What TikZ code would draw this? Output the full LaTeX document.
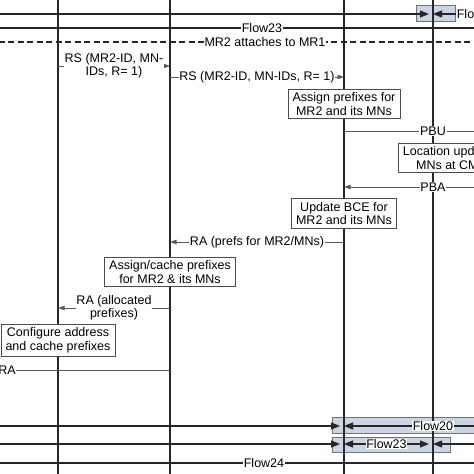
\documentclass[tikz,border=0pt]{standalone}
\usepackage{fontspec}
\setmainfont{Liberation Sans}
\usetikzlibrary{arrows.meta}
\definecolor{flowblue}{HTML}{CAD6E6}

\begin{document}
\begin{tikzpicture}[x=1pt,y=-1pt,
  lifeline/.style={line width=1.3pt,black!85},
  flowline/.style={line width=1.1pt,black!85},
  msgline/.style={line width=0.6pt,black!65},
  msgtip/.style={-{Triangle[length=6.5pt,width=4.5pt]}},
  flowtip/.style={-{Triangle[length=9pt,width=7pt]}},
  flowbox/.style={draw=black!55,fill=flowblue,line width=0.8pt},
  lbl/.style={fill=white,text=black,inner sep=0.8pt,font=\fontsize{12.5}{13.5}\selectfont,align=center},
  stepbox/.style={draw=black!70,fill=white,text=black,line width=0.8pt,inner xsep=4.5pt,inner ysep=3.4pt,
    font=\fontsize{12.5}{13.5}\selectfont,align=center}]
\useasboundingbox (0,0) rectangle (474,474);
\clip (0,0) rectangle (474,474);

\coordinate (west) at (-30,0);
\coordinate (east) at (520,0);
\coordinate (mrtwo) at (58,0);
\coordinate (mrone) at (170,0);
\coordinate (mag) at (344,0);
\coordinate (magin) at (340,0);
\coordinate (cmag) at (433,0);
\coordinate (cmagin) at (429,0);

% tunnel boxes
\draw[flowbox] (416,5) rectangle (455,21);
\draw[flowbox] (332,417) rectangle (520,433);
\draw[flowbox] (332,437) rectangle (450,452);

% lifelines
\draw[lifeline] (mrtwo |- 0,-5) -- (mrtwo |- 0,480);
\draw[lifeline] (mrone |- 0,-5) -- (mrone |- 0,480);
\draw[lifeline] (mag |- 0,-5) -- (mag |- 0,480);
\draw[lifeline] (cmag |- 0,-5) -- (cmag |- 0,480);

% flows at the top
\draw[flowline,flowtip] (west |- 0,14) -- (cmagin |- 0,14);
\draw[flowline,flowtip] (east |- 0,14) -- (cmag |- 0,14);
\node[lbl] (flowtop) at (477,14) {Flow20};
\draw[flowline] (west |- 0,28) -- (east |- 0,28);
\node[lbl] (flowtwentythree) at (262,28) {Flow23};
\draw[flowline,dash pattern=on 6pt off 3.5pt] (west |- 0,42) -- (east |- 0,42);
\node[lbl] (attach) at (265,42) {MR2 attaches to MR1};

% signalling
\draw[msgline,msgtip] (mrtwo |- 0,66) -- node[lbl] (rsone) {RS (MR2-ID, MN-\\IDs, R= 1)} (mrone |- 0,66);
\draw[msgline,msgtip] (mrone |- 0,77) -- node[lbl] (rstwo) {RS (MR2-ID, MN-IDs, R= 1)} (mag |- 0,77);
\node[stepbox] (assign) at (mag |- 0,104) {Assign prefixes for\\MR2 and its MNs};
\draw[msgline,msgtip] (mag |- 0,131) -- (east |- 0,131);
\node[lbl] (pbu) at (cmag |- 0,131) {PBU};
\node[stepbox,anchor=west] (locupd) at (398,158) {Location update for\\MNs at CMAG};
\draw[msgline,msgtip] (east |- 0,187) -- (mag |- 0,187);
\node[lbl] (pba) at (cmag |- 0,187) {PBA};
\node[stepbox] (updbce) at (mag |- 0,213.5) {Update BCE for\\MR2 and its MNs};
\draw[msgline,msgtip] (mag |- 0,242) -- node[lbl] (raprefs) {RA (prefs for MR2/MNs)} (mrone |- 0,242);
\node[stepbox] (cache) at (mrone |- 0,272) {Assign/cache prefixes\\for MR2 \& its MNs};
\draw[msgline,msgtip] (mrone |- 0,308) -- node[lbl] (raalloc) {RA (allocated\\prefixes)} (mrtwo |- 0,308);
\node[stepbox] (config) at (mrtwo |- 0,340.5) {Configure address\\and cache prefixes};
\draw[msgline,msgtip] (mrone |- 0,370) -- (west |- 0,370);
\node[lbl] (ra) at (7,370) {RA};

% flows at the bottom
\draw[flowline,flowtip] (west |- 0,426) -- (magin |- 0,426);
\draw[flowline,flowtip] (east |- 0,426) -- (mag |- 0,426);
\node[lbl] (flowtwenty) at (cmag |- 0,426) {Flow20};
\draw[flowline,flowtip] (west |- 0,444) -- (magin |- 0,444);
\draw[flowline,{Triangle[length=9pt,width=7pt]}-{Triangle[length=9pt,width=7pt]}] (mag |- 0,444) -- node[lbl] (flowinner) {Flow23} (cmagin |- 0,444);
\draw[flowline,flowtip] (east |- 0,444) -- (cmag |- 0,444);
\draw[flowline] (west |- 0,463) -- (east |- 0,463);
\node[lbl] (flowtwentyfour) at (264,463) {Flow24};
\end{tikzpicture}
\end{document}
